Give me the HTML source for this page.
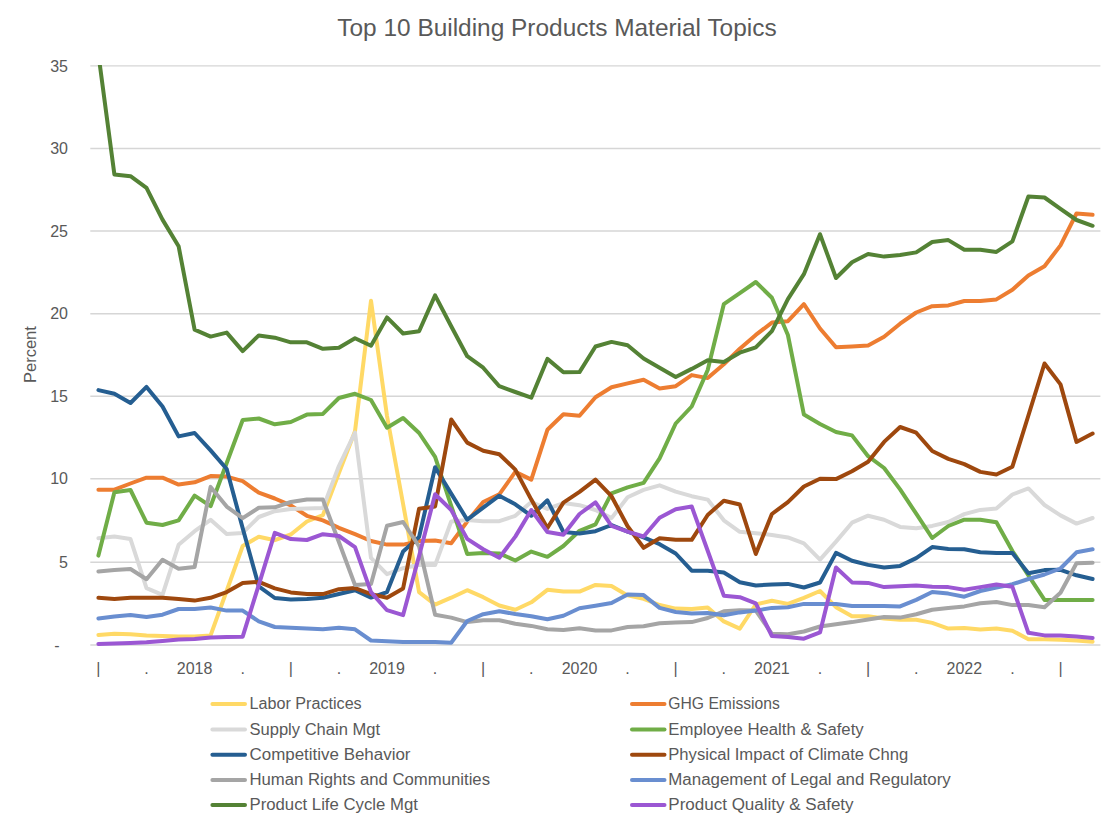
<!DOCTYPE html>
<html><head><meta charset="utf-8"><title>Top 10 Building Products Material Topics</title>
<style>html,body{margin:0;padding:0;background:#fff;overflow:hidden;}svg{display:block;}text{font-family:"Liberation Sans", Arial, sans-serif;fill:#595959;}</style></head><body>
<svg width="1112" height="823" viewBox="0 0 1112 823">
<rect x="0" y="0" width="1112" height="823" fill="#fff"/>
<defs><clipPath id="pa"><rect x="88" y="65" width="1014" height="590"/></clipPath></defs>
<text x="337.3" y="36.3" font-size="24.2" textLength="439.3" lengthAdjust="spacingAndGlyphs">Top 10 Building Products Material Topics</text>
<line x1="90.3" x2="1100.4" y1="65.90" y2="65.90" stroke="#D6D6D6" stroke-width="1.4"/>
<line x1="90.3" x2="1100.4" y1="148.50" y2="148.50" stroke="#D6D6D6" stroke-width="1.4"/>
<line x1="90.3" x2="1100.4" y1="231.00" y2="231.00" stroke="#D6D6D6" stroke-width="1.4"/>
<line x1="90.3" x2="1100.4" y1="313.70" y2="313.70" stroke="#D6D6D6" stroke-width="1.4"/>
<line x1="90.3" x2="1100.4" y1="396.20" y2="396.20" stroke="#D6D6D6" stroke-width="1.4"/>
<line x1="90.3" x2="1100.4" y1="478.70" y2="478.70" stroke="#D6D6D6" stroke-width="1.4"/>
<line x1="90.3" x2="1100.4" y1="562.20" y2="562.20" stroke="#D6D6D6" stroke-width="1.4"/>
<line x1="90.3" x2="1100.4" y1="645.00" y2="645.00" stroke="#D6D6D6" stroke-width="1.4"/>
<text x="68" y="71.5" font-size="16" text-anchor="end">35</text>
<text x="68" y="154.1" font-size="16" text-anchor="end">30</text>
<text x="68" y="236.6" font-size="16" text-anchor="end">25</text>
<text x="68" y="319.3" font-size="16" text-anchor="end">20</text>
<text x="68" y="401.8" font-size="16" text-anchor="end">15</text>
<text x="68" y="484.3" font-size="16" text-anchor="end">10</text>
<text x="68" y="567.8" font-size="16" text-anchor="end">5</text>
<text x="59.5" y="650.6" font-size="16" text-anchor="end">-</text>
<text transform="translate(36.2,354.6) rotate(-90)" font-size="16" textLength="57" lengthAdjust="spacingAndGlyphs" text-anchor="middle">Percent</text>
<text x="98.4" y="674" font-size="16" text-anchor="middle">|</text>
<text x="146.5" y="674" font-size="16" text-anchor="middle">.</text>
<text x="194.6" y="674" font-size="16" text-anchor="middle">2018</text>
<text x="242.7" y="674" font-size="16" text-anchor="middle">.</text>
<text x="290.8" y="674" font-size="16" text-anchor="middle">|</text>
<text x="338.9" y="674" font-size="16" text-anchor="middle">.</text>
<text x="387.0" y="674" font-size="16" text-anchor="middle">2019</text>
<text x="435.1" y="674" font-size="16" text-anchor="middle">.</text>
<text x="483.2" y="674" font-size="16" text-anchor="middle">|</text>
<text x="531.3" y="674" font-size="16" text-anchor="middle">.</text>
<text x="579.5" y="674" font-size="16" text-anchor="middle">2020</text>
<text x="627.6" y="674" font-size="16" text-anchor="middle">.</text>
<text x="675.7" y="674" font-size="16" text-anchor="middle">|</text>
<text x="723.8" y="674" font-size="16" text-anchor="middle">.</text>
<text x="771.9" y="674" font-size="16" text-anchor="middle">2021</text>
<text x="820.0" y="674" font-size="16" text-anchor="middle">.</text>
<text x="868.1" y="674" font-size="16" text-anchor="middle">|</text>
<text x="916.2" y="674" font-size="16" text-anchor="middle">.</text>
<text x="964.3" y="674" font-size="16" text-anchor="middle">2022</text>
<text x="1012.4" y="674" font-size="16" text-anchor="middle">.</text>
<text x="1060.5" y="674" font-size="16" text-anchor="middle">|</text>
<g clip-path="url(#pa)" fill="none" stroke-width="4.0" stroke-linejoin="round" stroke-linecap="round">
<polyline stroke="#FFD966" points="98.4,634.9 114.4,633.8 130.5,634.2 146.5,635.6 162.5,636.0 178.6,636.5 194.6,636.5 210.6,635.4 226.7,590.7 242.7,546.0 258.8,536.7 274.8,540.2 290.8,534.5 306.9,521.5 322.9,515.1 338.9,473.1 355.0,431.2 371.0,300.8 387.0,416.0 403.1,504.0 419.1,592.1 435.1,604.6 451.2,597.7 467.2,590.2 483.2,597.2 499.3,605.5 515.3,609.7 531.3,602.3 547.4,589.8 563.4,591.5 579.5,591.6 595.5,584.9 611.5,586.1 627.6,595.4 643.6,598.9 659.6,605.0 675.7,608.6 691.7,609.0 707.7,607.5 723.8,621.4 739.8,628.6 755.8,604.5 771.9,600.7 787.9,603.9 803.9,597.8 820.0,591.0 836.0,607.2 852.0,616.3 868.1,616.3 884.1,618.4 900.1,619.7 916.2,619.7 932.2,622.9 948.3,628.6 964.3,628.1 980.3,629.4 996.4,628.6 1012.4,630.7 1028.4,639.3 1044.5,639.3 1060.5,639.8 1076.5,640.6 1092.6,641.7"/>
<polyline stroke="#ED7D31" points="98.4,489.7 114.4,489.7 130.5,483.5 146.5,477.7 162.5,477.7 178.6,484.6 194.6,482.3 210.6,476.1 226.7,476.6 242.7,481.2 258.8,492.7 274.8,498.5 290.8,505.4 306.9,515.8 322.9,520.4 338.9,527.8 355.0,534.2 371.0,541.0 387.0,544.6 403.1,544.6 419.1,541.1 435.1,540.5 451.2,543.3 467.2,521.6 483.2,502.0 499.3,494.3 515.3,471.9 531.3,479.6 547.4,429.8 563.4,414.3 579.5,415.7 595.5,397.3 611.5,387.3 627.6,383.4 643.6,379.7 659.6,388.5 675.7,386.2 691.7,375.1 707.7,378.1 723.8,364.3 739.8,348.8 755.8,334.9 771.9,322.6 787.9,321.2 803.9,304.2 820.0,328.5 836.0,347.2 852.0,346.4 868.1,345.4 884.1,336.8 900.1,323.7 916.2,312.5 932.2,306.2 948.3,305.4 964.3,301.0 980.3,301.0 996.4,299.4 1012.4,289.8 1028.4,275.4 1044.5,266.2 1060.5,245.4 1076.5,213.5 1092.6,214.8"/>
<polyline stroke="#D9D9D9" points="98.4,538.3 114.4,536.6 130.5,539.1 146.5,588.1 162.5,594.9 178.6,544.8 194.6,531.2 210.6,519.8 226.7,534.0 242.7,532.9 258.8,517.0 274.8,511.2 290.8,509.0 306.9,508.4 322.9,508.1 338.9,466.0 355.0,432.5 371.0,557.9 387.0,574.2 403.1,568.2 419.1,564.8 435.1,565.1 451.2,521.5 467.2,520.0 483.2,521.2 499.3,521.2 515.3,515.8 531.3,502.0 547.4,508.9 563.4,503.1 579.5,505.2 595.5,510.0 611.5,518.1 627.6,497.3 643.6,489.9 659.6,485.3 675.7,491.6 691.7,496.2 707.7,499.6 723.8,520.3 739.8,531.8 755.8,533.2 771.9,534.9 787.9,537.4 803.9,543.4 820.0,559.6 836.0,541.6 852.0,522.7 868.1,515.7 884.1,519.7 900.1,526.9 916.2,528.2 932.2,525.9 948.3,522.0 964.3,514.1 980.3,509.9 996.4,508.5 1012.4,494.5 1028.4,488.4 1044.5,505.0 1060.5,515.4 1076.5,523.6 1092.6,518.0"/>
<polyline stroke="#70AD47" points="98.4,555.6 114.4,492.3 130.5,490.0 146.5,522.7 162.5,525.0 178.6,520.4 194.6,495.7 210.6,506.2 226.7,463.0 242.7,420.0 258.8,418.5 274.8,424.3 290.8,422.0 306.9,414.6 322.9,413.9 338.9,398.0 355.0,393.8 371.0,400.0 387.0,427.7 403.1,418.0 419.1,433.0 435.1,456.8 451.2,505.8 467.2,553.9 483.2,553.0 499.3,553.4 515.3,560.5 531.3,551.6 547.4,556.8 563.4,546.0 579.5,530.8 595.5,524.3 611.5,493.4 627.6,487.4 643.6,482.8 659.6,458.3 675.7,423.5 691.7,406.5 707.7,370.0 723.8,304.2 739.8,293.1 755.8,282.0 771.9,297.8 787.9,335.0 803.9,414.6 820.0,424.0 836.0,432.0 852.0,435.4 868.1,456.2 884.1,468.0 900.1,489.4 916.2,513.7 932.2,538.0 948.3,526.0 964.3,519.7 980.3,519.7 996.4,522.3 1012.4,551.0 1028.4,575.3 1044.5,599.9 1060.5,599.9 1076.5,599.9 1092.6,599.9"/>
<polyline stroke="#255E91" points="98.4,390.1 114.4,393.8 130.5,403.0 146.5,386.9 162.5,406.5 178.6,436.4 194.6,433.0 210.6,450.4 226.7,469.0 242.7,528.3 258.8,586.4 274.8,598.0 290.8,599.6 306.9,598.9 322.9,597.8 338.9,594.0 355.0,590.3 371.0,597.6 387.0,592.1 403.1,551.4 419.1,536.9 435.1,467.3 451.2,493.6 467.2,519.7 483.2,507.7 499.3,495.7 515.3,504.3 531.3,515.8 547.4,500.3 563.4,532.0 579.5,533.4 595.5,531.2 611.5,525.0 627.6,531.7 643.6,537.4 659.6,544.2 675.7,553.5 691.7,570.7 707.7,570.7 723.8,572.5 739.8,582.2 755.8,585.5 771.9,584.5 787.9,583.9 803.9,587.5 820.0,582.5 836.0,552.9 852.0,560.7 868.1,564.9 884.1,567.5 900.1,565.9 916.2,558.1 932.2,547.1 948.3,548.9 964.3,549.2 980.3,552.3 996.4,553.1 1012.4,553.1 1028.4,573.2 1044.5,570.1 1060.5,569.8 1076.5,575.3 1092.6,579.0"/>
<polyline stroke="#9E480E" points="98.4,597.8 114.4,598.9 130.5,597.8 146.5,597.8 162.5,597.8 178.6,598.9 194.6,600.6 210.6,597.8 226.7,592.1 242.7,583.0 258.8,581.9 274.8,588.4 290.8,592.4 306.9,594.1 322.9,594.1 338.9,589.2 355.0,588.1 371.0,594.1 387.0,597.7 403.1,588.4 419.1,508.7 435.1,506.4 451.2,419.5 467.2,442.6 483.2,450.7 499.3,454.2 515.3,469.6 531.3,499.6 547.4,528.0 563.4,502.6 579.5,491.9 595.5,479.6 611.5,496.2 627.6,526.2 643.6,547.8 659.6,538.2 675.7,539.7 691.7,539.8 707.7,515.0 723.8,500.7 739.8,504.5 755.8,554.0 771.9,514.0 787.9,502.1 803.9,486.5 820.0,478.7 836.0,479.1 852.0,471.2 868.1,461.8 884.1,441.9 900.1,427.0 916.2,432.7 932.2,451.0 948.3,458.9 964.3,464.1 980.3,471.9 996.4,474.5 1012.4,466.7 1028.4,415.5 1044.5,363.5 1060.5,384.4 1076.5,441.9 1092.6,433.5"/>
<polyline stroke="#A5A5A5" points="98.4,571.6 114.4,569.9 130.5,569.0 146.5,579.2 162.5,559.7 178.6,568.8 194.6,567.0 210.6,486.9 226.7,506.6 242.7,518.1 258.8,507.7 274.8,507.3 290.8,502.0 306.9,499.6 322.9,499.6 338.9,542.0 355.0,585.0 371.0,584.0 387.0,525.8 403.1,522.0 419.1,546.5 435.1,614.7 451.2,617.6 467.2,622.1 483.2,620.3 499.3,620.3 515.3,623.7 531.3,625.9 547.4,629.3 563.4,629.9 579.5,628.3 595.5,630.4 611.5,630.4 627.6,627.0 643.6,626.3 659.6,623.2 675.7,622.5 691.7,622.1 707.7,618.0 723.8,611.3 739.8,610.2 755.8,610.6 771.9,633.8 787.9,634.2 803.9,631.5 820.0,626.5 836.0,624.2 852.0,622.1 868.1,619.5 884.1,617.1 900.1,617.6 916.2,614.2 932.2,609.8 948.3,608.0 964.3,606.4 980.3,603.3 996.4,602.0 1012.4,605.1 1028.4,605.1 1044.5,607.2 1060.5,592.8 1076.5,563.3 1092.6,562.8"/>
<polyline stroke="#698ED0" points="98.4,618.6 114.4,616.5 130.5,615.1 146.5,616.9 162.5,614.7 178.6,609.0 194.6,609.0 210.6,607.5 226.7,610.6 242.7,610.6 258.8,621.4 274.8,627.0 290.8,627.7 306.9,628.6 322.9,629.3 338.9,627.7 355.0,629.3 371.0,640.5 387.0,641.2 403.1,642.1 419.1,642.1 435.1,642.1 451.2,642.8 467.2,621.0 483.2,614.2 499.3,611.3 515.3,614.0 531.3,616.2 547.4,619.2 563.4,615.8 579.5,608.2 595.5,605.7 611.5,603.0 627.6,594.4 643.6,595.1 659.6,607.9 675.7,612.0 691.7,613.5 707.7,612.9 723.8,615.3 739.8,612.4 755.8,610.6 771.9,607.9 787.9,607.2 803.9,603.9 820.0,604.0 836.0,604.1 852.0,605.9 868.1,605.9 884.1,605.9 900.1,606.4 916.2,599.9 932.2,592.0 948.3,593.6 964.3,596.7 980.3,591.0 996.4,587.6 1012.4,584.2 1028.4,579.0 1044.5,574.5 1060.5,568.5 1076.5,552.3 1092.6,549.2"/>
<polyline stroke="#548235" points="98.4,54.0 114.4,174.6 130.5,176.2 146.5,187.8 162.5,219.6 178.6,246.2 194.6,329.6 210.6,336.6 226.7,332.6 242.7,351.1 258.8,335.4 274.8,337.7 290.8,342.3 306.9,342.3 322.9,348.8 338.9,347.8 355.0,338.3 371.0,345.8 387.0,317.4 403.1,333.5 419.1,331.2 435.1,295.4 451.2,326.2 467.2,356.2 483.2,367.7 499.3,386.2 515.3,392.0 531.3,397.7 547.4,358.9 563.4,372.3 579.5,372.1 595.5,346.5 611.5,341.9 627.6,345.3 643.6,358.5 659.6,367.7 675.7,377.0 691.7,368.9 707.7,360.3 723.8,361.9 739.8,352.7 755.8,347.4 771.9,331.2 787.9,299.2 803.9,274.2 820.0,234.2 836.0,278.0 852.0,262.3 868.1,254.0 884.1,256.6 900.1,255.0 916.2,252.4 932.2,242.0 948.3,240.1 964.3,249.8 980.3,249.8 996.4,251.9 1012.4,241.4 1028.4,196.5 1044.5,197.5 1060.5,208.8 1076.5,220.0 1092.6,225.8"/>
<polyline stroke="#9B57D3" points="98.4,643.9 114.4,643.4 130.5,643.0 146.5,642.3 162.5,641.0 178.6,639.6 194.6,638.9 210.6,637.6 226.7,637.1 242.7,636.7 258.8,584.8 274.8,532.8 290.8,539.1 306.9,540.0 322.9,534.2 338.9,536.0 355.0,547.1 371.0,592.1 387.0,610.2 403.1,615.1 419.1,556.0 435.1,494.3 451.2,510.0 467.2,538.9 483.2,549.3 499.3,557.8 515.3,536.6 531.3,510.0 547.4,532.0 563.4,534.7 579.5,514.0 595.5,502.4 611.5,525.8 627.6,531.7 643.6,536.5 659.6,517.8 675.7,509.2 691.7,506.5 707.7,550.7 723.8,595.7 739.8,597.2 755.8,603.4 771.9,636.0 787.9,637.1 803.9,638.7 820.0,632.4 836.0,567.5 852.0,582.4 868.1,582.9 884.1,587.1 900.1,586.3 916.2,585.5 932.2,586.8 948.3,587.1 964.3,589.7 980.3,587.1 996.4,584.5 1012.4,586.8 1028.4,632.8 1044.5,635.4 1060.5,635.4 1076.5,636.4 1092.6,638.0"/>
</g>
<line x1="212.4" x2="245.0" y1="703.9" y2="703.9" stroke="#FFD966" stroke-width="4.0" stroke-linecap="round"/>
<text x="249.5" y="709.2" font-size="16" textLength="112.2" lengthAdjust="spacingAndGlyphs">Labor Practices</text>
<line x1="632.0" x2="664.5" y1="703.9" y2="703.9" stroke="#ED7D31" stroke-width="4.0" stroke-linecap="round"/>
<text x="668.3" y="709.2" font-size="16" textLength="111.6" lengthAdjust="spacingAndGlyphs">GHG Emissions</text>
<line x1="212.4" x2="245.0" y1="729.5" y2="729.5" stroke="#D9D9D9" stroke-width="4.0" stroke-linecap="round"/>
<text x="249.5" y="734.8" font-size="16" textLength="130.5" lengthAdjust="spacingAndGlyphs">Supply Chain Mgt</text>
<line x1="632.0" x2="664.5" y1="729.5" y2="729.5" stroke="#70AD47" stroke-width="4.0" stroke-linecap="round"/>
<text x="668.3" y="734.8" font-size="16" textLength="195.4" lengthAdjust="spacingAndGlyphs">Employee Health &amp; Safety</text>
<line x1="212.4" x2="245.0" y1="754.8" y2="754.8" stroke="#255E91" stroke-width="4.0" stroke-linecap="round"/>
<text x="249.5" y="760.1" font-size="16" textLength="161.0" lengthAdjust="spacingAndGlyphs">Competitive Behavior</text>
<line x1="632.0" x2="664.5" y1="754.8" y2="754.8" stroke="#9E480E" stroke-width="4.0" stroke-linecap="round"/>
<text x="668.3" y="760.1" font-size="16" textLength="240.0" lengthAdjust="spacingAndGlyphs">Physical Impact of Climate Chng</text>
<line x1="212.4" x2="245.0" y1="780.0" y2="780.0" stroke="#A5A5A5" stroke-width="4.0" stroke-linecap="round"/>
<text x="249.5" y="785.3" font-size="16" textLength="240.5" lengthAdjust="spacingAndGlyphs">Human Rights and Communities</text>
<line x1="632.0" x2="664.5" y1="780.0" y2="780.0" stroke="#698ED0" stroke-width="4.0" stroke-linecap="round"/>
<text x="668.3" y="785.3" font-size="16" textLength="282.4" lengthAdjust="spacingAndGlyphs">Management of Legal and Regulatory</text>
<line x1="212.4" x2="245.0" y1="805.0" y2="805.0" stroke="#548235" stroke-width="4.0" stroke-linecap="round"/>
<text x="249.5" y="810.3" font-size="16" textLength="168.4" lengthAdjust="spacingAndGlyphs">Product Life Cycle Mgt</text>
<line x1="632.0" x2="664.5" y1="805.0" y2="805.0" stroke="#9B57D3" stroke-width="4.0" stroke-linecap="round"/>
<text x="668.3" y="810.3" font-size="16" textLength="185.3" lengthAdjust="spacingAndGlyphs">Product Quality &amp; Safety</text>
</svg>
</body></html>
